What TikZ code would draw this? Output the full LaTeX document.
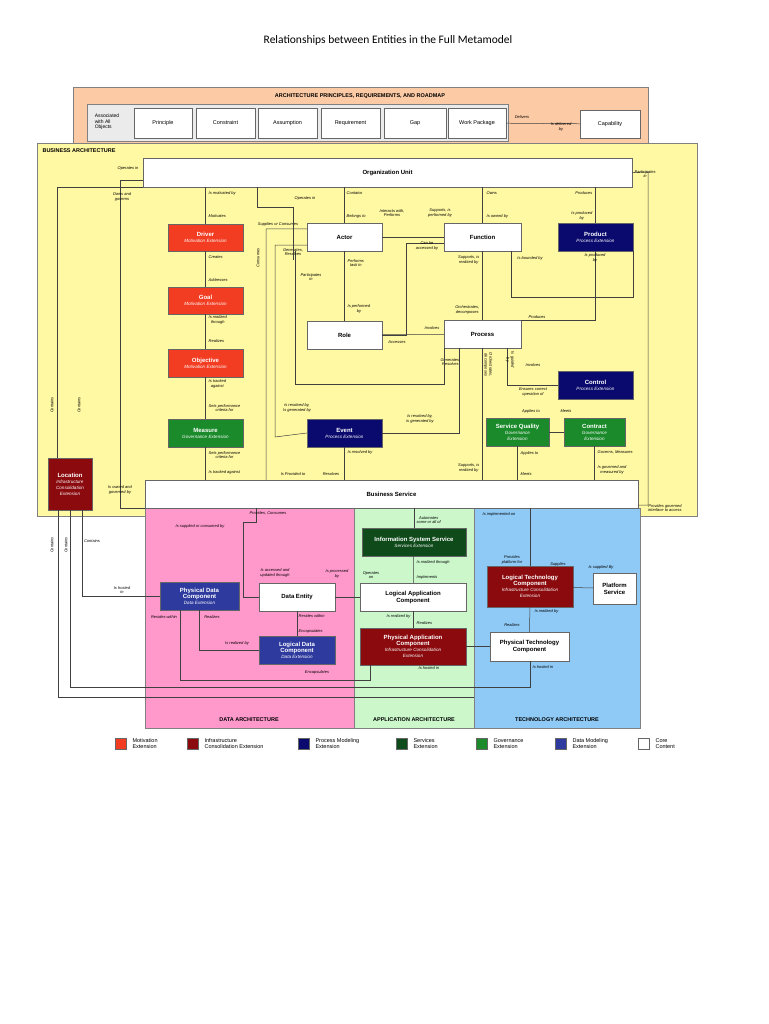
\documentclass[tikz,border=0pt]{standalone}
\usepackage{fontspec}
\setmainfont{Liberation Sans}
\newfontfamily\titlefont{Carlito}
\begin{document}
\begin{tikzpicture}[x=1pt,y=-1pt,
  lbl/.style={font=\fontsize{4}{4.6}\selectfont\itshape,align=center,inner sep=0.5pt},
  core/.style={draw=black!60,fill=white,font=\fontsize{6}{7}\selectfont\bfseries,align=center,inner sep=1pt},
  ext/.style={draw=black!60,text=white,font=\fontsize{6}{7}\selectfont\bfseries,align=center,inner sep=1pt},
  ln/.style={draw=black!75,line width=0.5pt},
  area/.style={draw=black!50,line width=0.4pt},
  ttl/.style={font=\fontsize{5.5}{6}\selectfont\bfseries}]
\definecolor{mot}{HTML}{F23D22}\definecolor{infra}{HTML}{8A0A0E}\definecolor{procc}{HTML}{0A0A6E}
\definecolor{serv}{HTML}{0F4A1A}\definecolor{gov}{HTML}{1A8A2A}\definecolor{dat}{HTML}{2E3A9E}
\definecolor{yel}{HTML}{FFF9A3}\definecolor{ora}{HTML}{FCCBA6}\definecolor{pnk}{HTML}{FF99CC}
\definecolor{lgr}{HTML}{CBF7CB}\definecolor{techblue}{HTML}{8FC9F5}
\newcommand{\es}[1]{\\[-1pt]{\fontsize{4.6}{5.4}\selectfont\mdseries\itshape #1}}
\useasboundingbox (0,0) rectangle (768,1024);
\fill[white] (0,0) rectangle (768,1024);
\node[font=\titlefont\fontsize{11.5}{13}\selectfont] (title) at (388,40) {Relationships between Entities in the Full Metamodel};
% areas
\draw[area,fill=ora] (73,87) rectangle (648,143);
\node[ttl] (t1) at (360,96) {ARCHITECTURE PRINCIPLES, REQUIREMENTS, AND ROADMAP};
\draw[area,fill=black!8] (87,104) rectangle (508,141);
\node[font=\fontsize{5}{5.6}\selectfont,align=left] (assoc) at (107,122) {Associated\\with All\\Objects};
\draw[area,fill=yel] (37,143) rectangle (697,516);
\node[ttl,anchor=west] (t2) at (39,151) {BUSINESS ARCHITECTURE};
\fill[pnk] (145,508) rectangle (354,728);
\fill[lgr] (354,508) rectangle (474,728);
\fill[techblue] (474,508) rectangle (640,728);
\draw[area] (145,508) rectangle (640,728) (354,508)--(354,728) (474,508)--(474,728);
\node[ttl] (t3) at (249,720) {DATA ARCHITECTURE};
\node[ttl] (t4) at (414,720) {APPLICATION ARCHITECTURE};
\node[ttl] (t5) at (557,720) {TECHNOLOGY ARCHITECTURE};
% top boxes
\foreach \n/\x/\w/\t in {pr/163/58/Principle,co/225.5/59/Constraint,as/287.5/59/Assumption,re/350.5/59/Requirement,ga/415/62/Gap,wp/477/58/Work Package}
  \node[core,font=\fontsize{5.5}{6}\selectfont,minimum width=\w,minimum height=30] (\n) at (\x,123) {\t};
\node[core,font=\fontsize{5.5}{6}\selectfont,minimum width=60,minimum height=28] (cap) at (610,124) {Capability};
\draw[ln] (wp) -- (cap);
\node[lbl] at (522,117) {Delivers};
\node[lbl] at (561,127) {Is delivered\\by};
% business nodes
\node[core,minimum width=489,minimum height=29] (org) at (387.5,172.5) {Organization Unit};
\node[core,minimum width=493,minimum height=28] (bs) at (391.5,494) {Business Service};
\node[ext,fill=mot,minimum width=75,minimum height=27] (driver) at (205.5,237.5) {Driver\es{Motivation Extension}};
\node[ext,fill=mot,minimum width=75,minimum height=27] (goal) at (205.5,300.5) {Goal\es{Motivation Extension}};
\node[ext,fill=mot,minimum width=75,minimum height=28] (obj) at (205.5,363) {Objective\es{Motivation Extension}};
\node[ext,fill=gov,minimum width=75,minimum height=28] (meas) at (205.5,433) {Measure\es{Governance Extension}};
\node[core,minimum width=75,minimum height=28] (actor) at (344.5,237) {Actor};
\node[core,minimum width=77,minimum height=28] (func) at (482.5,237) {Function};
\node[ext,fill=procc,minimum width=75,minimum height=28] (prod) at (595.5,237) {Product\es{Process Extension}};
\node[core,minimum width=75,minimum height=28] (role) at (344.5,335) {Role};
\node[core,minimum width=77,minimum height=28] (proc) at (482.5,334) {Process};
\node[ext,fill=procc,minimum width=75,minimum height=28] (ctrl) at (595.5,385) {Control\es{Process Extension}};
\node[ext,fill=procc,minimum width=75,minimum height=28] (event) at (344.5,433) {Event\es{Process Extension}};
\node[ext,fill=gov,minimum width=63,minimum height=28] (sq) at (517.5,432) {Service Quality\es{Governance}\es{Extension}};
\node[ext,fill=gov,minimum width=61,minimum height=28] (contr) at (594.5,432) {Contract\es{Governance}\es{Extension}};
\node[ext,fill=infra,minimum width=44,minimum height=52] (loc) at (70,484) {Location\es{Infrastructure}\es{Consolidation}\es{Extension}};
% data/app/tech nodes
\node[ext,fill=dat,minimum width=79,minimum height=28] (pdc) at (199.5,596) {Physical Data\\[-1pt]Component\es{Data Extension}};
\node[core,minimum width=76,minimum height=28] (de) at (297,597) {Data Entity};
\node[ext,fill=dat,minimum width=76,minimum height=28] (ldc) at (297,650) {Logical Data\\[-1pt]Component\es{Data Extension}};
\node[ext,fill=serv,minimum width=104,minimum height=28] (iss) at (414,542) {Information System Service\es{Services Extension}};
\node[core,minimum width=106,minimum height=28] (lac) at (413,597) {Logical Application\\Component};
\node[ext,fill=infra,minimum width=106,minimum height=37] (pac) at (413,646.5) {Physical Application\\[-1pt]Component\es{Infrastructure Consolidation}\es{Extension}};
\node[ext,fill=infra,minimum width=86,minimum height=41] (ltc) at (530,586.5) {Logical Technology\\[-1pt]Component\es{Infrastructure Consolidation}\es{Extension}};
\node[core,minimum width=43,minimum height=31] (ps) at (614.5,588.5) {Platform\\Service};
\node[core,minimum width=79,minimum height=29] (ptc) at (529.5,646.5) {Physical Technology\\Component};
% connectors business
\draw[ln] (org.south -| driver) -- (driver);
\draw[ln] (driver) -- (goal); \draw[ln] (goal) -- (obj); \draw[ln] (obj) -- (meas); \draw[ln] (meas) -- (bs.north -| meas);
\node[lbl,anchor=west] at (208,193) {Is motivated by};
\node[lbl,anchor=west] at (208,216) {Motivates};
\node[lbl,anchor=west] at (208,257) {Creates};
\node[lbl,anchor=west] at (208,280) {Addresses};
\node[lbl,anchor=west] at (208,320) {Is realized\\through};
\node[lbl,anchor=west] at (208,341) {Realizes};
\node[lbl,anchor=west] at (208,384) {Is tracked\\against};
\node[lbl,anchor=west] at (208,408) {Sets performance\\criteria for};
\node[lbl,anchor=west] at (208,455) {Sets performance\\criteria for};
\node[lbl,anchor=west] at (208,472) {Is tracked against};
\draw[ln] (org.south -| actor) -- (actor);
\node[lbl,anchor=west] at (346,193) {Contains};
\node[lbl,anchor=west] at (346,216) {Belongs to};
\draw[ln] (actor) -- (func);
\node[lbl] at (392,213) {Interacts with,\\Performs};
\node[lbl] at (440,213) {Supports, is\\performed by};
\draw[ln] (org.south -| func) -- (func);
\node[lbl,anchor=west] at (486,193) {Owns};
\node[lbl,anchor=west] at (486,216) {Is owned by};
\draw[ln] (org.south -| prod) -- (prod);
\node[lbl,anchor=east] at (593,193) {Produces};
\node[lbl,anchor=east] at (593,216) {Is produced\\by};
\draw[ln] (actor) -- (role);
\node[lbl,anchor=west] at (347,263) {Performs\\task in};
\node[lbl,anchor=west] at (347,309) {Is performed\\by};
\draw[ln] (role) -- (proc);
\node[lbl] at (397,342) {Accesses};
\node[lbl] at (432,328) {Involves};
\draw[ln] (func) -- (proc);
\node[lbl,anchor=east] at (480,260) {Supports, is\\realized by};
\node[lbl,anchor=east] at (480,310) {Orchestrates,\\decomposes};
\draw[ln] (proc) -- (bs.north -| proc);
\node[lbl,anchor=east] at (480,468) {Supports, is\\realized by};
\node[lbl,rotate=-90] at (488,365) {Orchestrates,\\decomposes};
\draw[ln] (prod) -- (prod |- proc.north east) coordinate (pp) -- (proc.north east |- pp);
\node[lbl] at (537,317) {Produces};
\draw[ln] (func.south east) ++(-10,0) coordinate (f1) -- (f1 |- 0,297) coordinate (f2) -- (f2 -| ctrl.east) coordinate (f3) -- (f3 |- prod.south);
\node[lbl] at (530,258) {Is bounded by};
\node[lbl] at (595,258) {Is produced\\by};
\draw[ln] (proc.south east) ++(-14,0) coordinate (c1) -- (c1 |- ctrl) -- (ctrl.west);
\node[lbl,rotate=-90] at (510,360) {Is guided\\by};
\node[lbl] at (533,392) {Ensures correct\\operation of};
\node[lbl] at (533,365) {Involves};
\draw[ln] (sq) -- (contr);
\node[lbl] at (531,411) {Applies to};
\node[lbl] at (566,411) {Meets};
\draw[ln] (sq) -- (bs.north -| sq);
\node[lbl,anchor=west] at (520,453) {Applies to};
\node[lbl,anchor=west] at (520,474) {Meets};
\draw[ln] (contr) -- (bs.north -| contr);
\node[lbl,anchor=west] at (597,452) {Governs, Measures};
\node[lbl,anchor=west] at (597,470) {Is governed and\\measured by};
\draw[ln] (proc.south west) ++(15,0) coordinate (e1) -- (e1 |- event) -- (event.east);
\node[lbl,anchor=east] at (461,362) {Generates,\\Resolves};
\node[lbl] at (420,419) {Is resolved by,\\is generated by};
\draw[ln] (event) -- (bs.north -| event);
\node[lbl,anchor=west] at (347,452) {Is resolved by};
\draw[ln] (actor.south west) ++(-12,0) coordinate (a1) -- (a1 |- 0,384) coordinate (a2) -- (a2 -| proc.south west) coordinate (a3) -- (a3 |- proc.south);
\node[lbl] at (297,408) {Is resolved by,\\Is generated by};
\draw[ln] (actor.west) ++(0,8) coordinate (g1) -- (275,245) -- (275,437) -- (event.west);
\node[lbl] at (293,252) {Generates,\\Resolves};
\node[lbl] at (311,277) {Participates\\in};
\draw[ln] (actor.north west) ++(0,6) coordinate (s1) -- (266,229) -- (266,480);
\node[lbl,rotate=90] at (258,258) {Consumes};
\node[lbl] at (278,224) {Supplies or Consumes};
\node[lbl] at (293,474) {Is Provided to};
\node[lbl] at (331,474) {Resolves};
\draw[ln] (func.west) ++(0,6) coordinate (k1) -- (406,243) -- (406,335) -- (role.east);
\node[lbl] at (427,246) {Can be\\accessed by};
\draw[ln] (org.west |- 0,187) coordinate (o1) -- (57,187) -- (57,458);
\node[lbl] at (128,168) {Operates in};
\draw[ln] (org.south) ++(-130,0) coordinate (r1) -- (r1 |- 0,207) -- (293,207) -- (293,260);
\node[lbl] at (305,198) {Operates in};
\draw[ln] (143,180) -- (120,180) -- (120,508) -- (145,508);
\node[lbl] at (122,197) {Owns and\\governs};
\node[lbl] at (120,490) {Is owned and\\governed by};
\draw[ln] (org.east) -- (648,172) -- (648,505) -- (bs.east |- 0,505);
\node[lbl,anchor=west] at (634,174) {Participates\\in};
\node[lbl] at (665,508) {Provides governed\\interface to access};
% Location lines
\draw[ln] (loc.south) ++(-12,0) coordinate (l1) -- (l1 |- 0,697) -- (474,697);
\draw[ln] (loc.south) coordinate (l2) -- (l2 |- 0,687) -- (530,687) -- (ptc.south -| 530,0);
\node[lbl,rotate=90] at (52,545) {Contains};
\node[lbl,rotate=90] at (66,545) {Contains};
\node[lbl,rotate=90] at (52,405) {Contains};
\node[lbl,rotate=90] at (79,405) {Contains};
\node[lbl,anchor=west] at (532,667) {Is hosted in};
\draw[ln] (loc.south) ++(12,0) coordinate (l3) -- (l3 |- pdc) -- (pdc.west);
\node[lbl] at (92,541) {Contains};
\node[lbl] at (122,590) {Is hosted\\in};
% data
\draw[ln] (bs.south) ++(-135,0) coordinate (d1) -- (d1 |- 0,522) -- (243,522) -- (243,597) -- (de.west);
\node[lbl] at (200,526) {Is supplied or consumed by};
\node[lbl] at (268,513) {Provides, Consumes};
\node[lbl] at (275,573) {Is accessed and\\updated through};
\draw[ln] (de) -- (lac);
\node[lbl] at (337,574) {Is processed\\by};
\node[lbl] at (371,575) {Operates\\on};
\draw[ln] (de) -- (ldc);
\node[lbl,anchor=west] at (298,616) {Resides within};
\node[lbl,anchor=west] at (298,631) {Encapsulates};
\draw[ln] (pdc.south) coordinate (p1) -- (p1 |- ldc) -- (ldc.west);
\node[lbl] at (212,617) {Realizes};
\node[lbl] at (237,643) {Is realized by};
\draw[ln] (pdc.south west) ++(20,0) coordinate (p2) -- (p2 |- 0,680) -- (370,680) -- (370,665);
\node[lbl] at (164,617) {Resides within};
\node[lbl] at (317,672) {Encapsulates};
% app
\draw[ln] (bs.south -| iss) -- (iss);
\node[lbl,anchor=west] at (416,520) {Automates\\some or all of};
\draw[ln] (iss) -- (lac);
\node[lbl,anchor=west] at (416,562) {Is realized through};
\node[lbl,anchor=west] at (416,577) {Implements};
\draw[ln] (lac) -- (pac);
\node[lbl,anchor=east] at (411,616) {Is realized by};
\node[lbl,anchor=west] at (416,623) {Realizes};
\node[lbl,anchor=west] at (418,668) {Is hosted in};
\draw[ln] (pac) -- (ptc);
% tech
\draw[ln] (bs.south -| ltc) -- (ltc);
\node[lbl,anchor=west] at (482,514) {Is implemented on};
\node[lbl] at (512,560) {Provides\\platform for};
\draw[ln] (ltc) -- (ps);
\node[lbl] at (558,564) {Supplies};
\node[lbl] at (601,567) {Is supplied By};
\draw[ln] (ltc) -- (ptc);
\node[lbl,anchor=west] at (534,611) {Is realized by};
\node[lbl] at (512,625) {Realizes};
% legend
\foreach \c/\x/\t in {mot/115/Motivation\\Extension,infra/187/Infrastructure\\Consolidation Extension,procc/298/Process Modeling\\Extension,serv/396/Services\\Extension,gov/476/Governance\\Extension,dat/555/Data Modeling\\Extension,white/638/Core\\Content}
  {\node[draw=black!60,fill=\c,minimum width=11,minimum height=11,inner sep=0] (lg\c) at (\x+6,744) {};
   \node[anchor=west,font=\fontsize{5.5}{6}\selectfont,align=left] at (\x+14,744) {\t};}
\end{tikzpicture}
\end{document}
